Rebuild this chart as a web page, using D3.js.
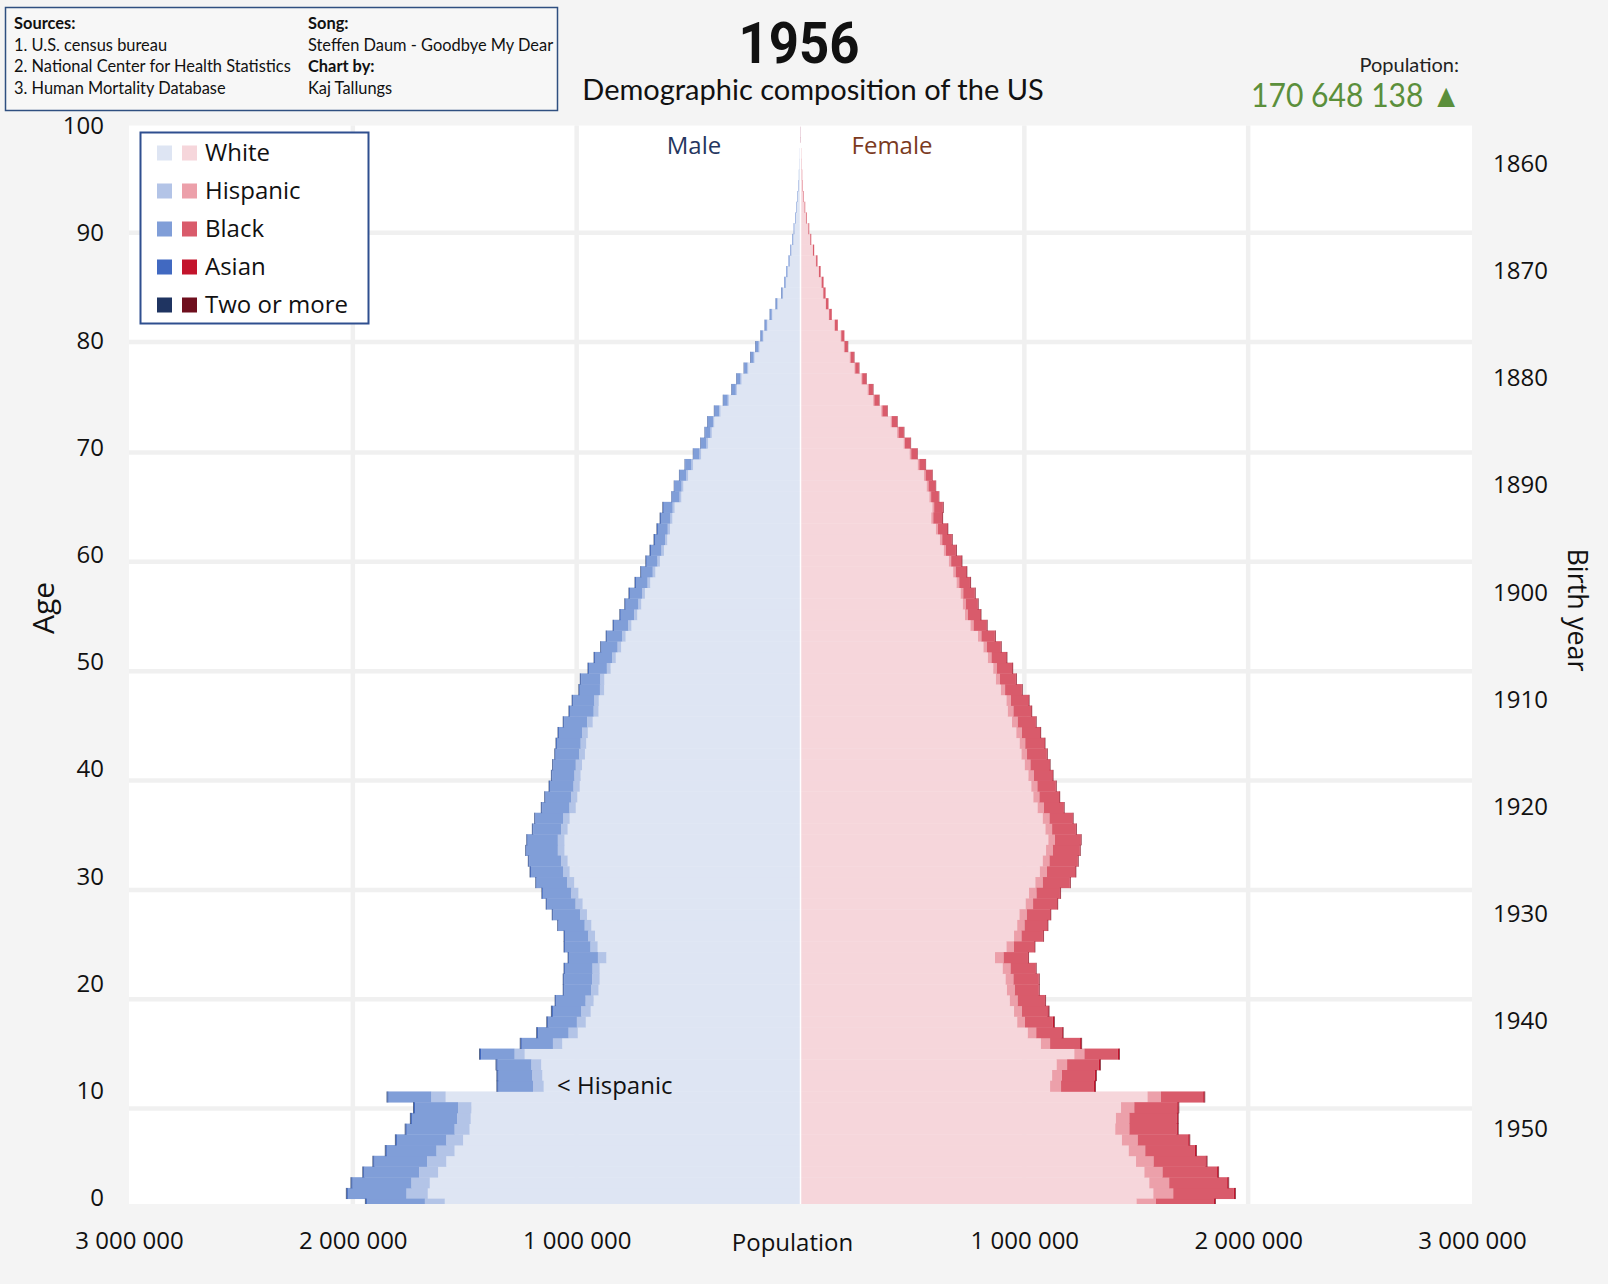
<!DOCTYPE html>
<html>
<head>
<meta charset="utf-8">
<script src="https://cdn.jsdelivr.net/npm/d3@7"></script>
<style>
  html, body { margin: 0; padding: 0; background: #f4f4f4; }
  svg { display: block; }
</style>
</head>
<body>
<div id="chart"></div>
<script>
// ---- data (population in thousands) ----
const ages = [0,1,2,3,4,5,6,7,8,9,10,11,12,13,14,15,16,17,18,19,20,21,22,23,24,25,26,27,28,29,
  30,31,32,33,34,35,36,37,38,39,40,41,42,43,44,45,46,47,48,49,50,51,52,53,54,55,56,57,58,59,
  60,61,62,63,64,65,66,67,68,69,70,71,72,73,74,75,76,77,78,79,80,81,82,83,84,85,86,87,88,89,
  90,91,92,93,94,95,96,97,98,99,100];

const maleWhite = [1589,1665,1656,1619,1582,1545,1507,1478,1473,1470,
  1585,1147,1153,1158,1232,1064,995,959,937,924,
  902,897,897,867,906,918,934,954,973,992,
  1011,1031,1040,1054,1054,1040,1031,1004,997,986,
  982,976,963,957,950,928,902,901,877,876,
  848,825,801,781,755,729,711,695,671,648,
  628,610,595,583,572,562,532,523,502,480,
  444,413,396,385,357,320,284,263,233,205,
  183,165.5,147.5,125.5,101.5,77.5,64.5,56.5,47,40,
  31.5,26.5,20.2,15.9,12.2,7.6,6,3.5,2.3,1.5,1.15];
const maleHispanic = [89,95,82,85,86,81,75,67,61,60,
  64,48,45,44,45,42,41,40,42,36,
  34,34,32,38,32,30,30,30,32,32,
  32,30,30,30,30,30,30,28,28,28,
  28,28,25,25,25,25,22,20,19,18,
  17,16,16,15,14,14,13,13,12,12,
  11,11,10,10,9,9,8,8,8,7,
  7,7,6,6,6,5,5,5,4,4,
  4,3,3,3,2,2,2,2,1.5,1.5,
  1,1,0.8,0.6,0.5,0.4,0.3,0.2,0.1,0.1,0.05];
const maleBlack = [259,262,263,244,235,222,221,214,202,192,
  191,154,151,151,150,139,135,127,127,132,
  120,125,123,129,114,104,117,121,127,127,
  136,143,142,140,135,124,123,122,114,105,
  99,100,106,106,104,103,106,95,90,86,
  80,77,72,68,64,60,57,54,52,50,
  48,47,45,44,42,40,34,32,30,28,
  27,25,24,23,21,19,17,16,14,13,
  12,10,9,8,7,6,6,5,5,4,
  4,3,2.5,2,1.8,1.5,1.2,0.8,0.6,0.4,0.3];
const maleAsian = [6,6,6,6,6,6,6,6,6,6,6,6,6,6,6,6,6,6,6,
  4,4,4,4,4,4,4,4,4,4,4,4,4,4,4,4,4,4,4,4,4,4,4,4,4,4,4,4,
  4,4,4,4,4,4,4,4,4,4,4,4,4,4,4,4,4,4,4,
  2,2,2,2,2,2,2,2,2,2,2,2,2,2,2,
  1,1,1,1,1,
  0.5,0.5,0.5,0.5,0.5,0.5,0.5,0.5,0.5,0.5,
  0,0,0,0,0];
const maleTwo = [3,3,3,3,3,3,3,3,3,3,3,3,3,3,3,3,3,3,3,
  2,2,2,2,2,2,2,2,2,2,2,2,2,2,2,2,2,2,2,2,2,2,2,2,2,2,2,2,
  2,2,2,2,2,2,2,2,2,2,2,2,2,2,2,2,2,2,2,
  1,1,1,1,1,1,1,1,1,1,1,1,1,1,1,
  0.5,0.5,0.5,0.5,0.5,
  0,0,0,0,0,0,0,0,0,0,
  0,0,0,0,0];

const femaleWhite = [1501,1576,1558,1536,1499,1466,1436,1406,1409,1432,
  1550,1115,1124,1144,1223,1074,1015,968,954,935,
  922,916,903,869,920,954,968,978,1006,1021,
  1049,1069,1082,1097,1107,1094,1082,1059,1040,1031,
  1018,1002,987,979,964,945,926,920,895,873,
  861,837,817,793,759,735,725,715,697,682,
  663,640,623,605,584,589,575.5,563.5,551.5,523.5,
  487.5,460.5,431.5,402.5,360.5,324.5,299.5,271.5,240.5,219.5,
  193.5,179,151,126,112,100,92.7,81.2,68.2,54.7,
  42.7,34.4,24.1,17.7,12.3,7.9,5.8,3.3,2,1.25,0.35];
const femaleHispanic = [87,89,89,81,78,74,70,63,60,59,
  60,49,44,47,45,41,38,35,35,35,
  35,35,35,38,33,33,33,33,33,33,
  33,32,30,30,30,30,30,28,27,27,
  25,25,25,25,25,25,25,20,19,18,
  16,16,15,15,14,13,13,12,12,11,
  10,10,10,9,9,8,8,8,7,7,
  7,6,6,6,5,5,5,4,4,4,
  3,3,3,2,2,2,2,1.5,1.5,1,
  1,0.8,0.6,0.5,0.4,0.3,0.2,0.1,0.1,0.05,0.05];
const femaleBlack = [259,271,259,244,232,222,226,211,211,192,
  189,147,147,142,150,134,113,124,114,122,
  107,113,112,109,91,96,101,104,107,105,
  121,126,126,120,114,106,103,88,88,82,
  82,85,88,85,81,80,79,78,74,71,
  68,66,62,60,58,55,53,51,48,47,
  45,44,42,41,39,38,34,32,30,28,
  27,25,24,23,22,21,19,18,16,15,
  14,13,12,11,10,9,8,7,6,5,
  4,3.5,3,2.5,2,1.5,1.2,0.8,0.6,0.4,0.3];
const femaleAsian = [6,6,6,6,6,6,6,6,6,6,6,6,6,6,6,6,6,6,6,
  3,3,3,3,3,3,3,3,3,3,3,3,3,3,3,3,3,3,3,3,3,3,3,3,3,3,3,3,
  3,3,3,3,3,3,3,3,3,3,3,3,3,3,3,3,3,3,3,
  1.5,1.5,1.5,1.5,1.5,1.5,1.5,1.5,1.5,1.5,1.5,1.5,1.5,1.5,1.5,
  1,1,1,1,1,
  0.3,0.3,0.3,0.3,0.3,0.3,0.3,0.3,0.3,0.3,
  0.3,0.3,0.3,0.3,0.3];
const femaleTwo = [3,3,3,3,3,3,3,3,3,3,3,3,3,3,3,3,3,3,3,
  2,2,2,2,2,2,2,2,2,2,2,2,2,2,2,2,2,2,2,2,2,2,2,2,2,2,2,2,
  2,2,2,2,2,2,2,2,2,2,2,2,2,2,2,2,2,2,2,
  1,1,1,1,1,1,1,1,1,1,1,1,1,1,1,
  0,0,0,0,0,
  0,0,0,0,0,0,0,0,0,0,
  0,0,0,0,0];

const groups = ["White", "Hispanic", "Black", "Asian", "Two or more"];
const ageTicks = [0,10,20,30,40,50,60,70,80,90,100];
const birthYears = [1860,1870,1880,1890,1900,1910,1920,1930,1940,1950];
const popTicks = [-3000,-2000,-1000,1000,2000,3000];
const gridAges = [8.9,19.1,29.3,39.5,49.7,59.9,70.1,80.4,90.6];
const gridPops = [-2000,-1000,1000,2000];
const year = "1956";
const totalPopulation = "170 648 138";

// colours for each group, male / female
const maleColors = ["#dee5f3", "#b3c4e7", "#809ed8", "#4169c1", "#1f3461"];
const femaleColors = ["#f6d6db", "#eca0aa", "#d95b6b", "#c3142c", "#6f0f1e"];

const W = 1608, H = 1284;
const svg = d3.select("#chart").append("svg")
    .attr("width", W)
    .attr("height", H);

svg.append("rect").attr("width", W).attr("height", H).attr("fill", "#f4f4f4");

// scales
const x = d3.scaleLinear().domain([-3000, 3000]).range([129, 1472]);
const y = d3.scaleLinear().domain([0, 100]).range([1204, 132]);
const band = y(0) - y(1);
const plotTop = y(100.6), plotBottom = y(0);
const birthY = d3.scaleLinear().domain([1956.5, 1856.5]).range([y(0), y(100)]);

const sans = "'Open Sans', sans-serif";
const calib = "Lato, 'Open Sans', sans-serif";

// plot area + gridlines
svg.append("rect")
    .attr("x", x(-3000)).attr("y", plotTop)
    .attr("width", x(3000) - x(-3000)).attr("height", plotBottom - plotTop)
    .attr("fill", "#ffffff");

svg.append("g").selectAll("line")
    .data(gridAges)
    .enter().append("line")
    .attr("x1", x(-3000)).attr("x2", x(3000))
    .attr("y1", d => y(d)).attr("y2", d => y(d))
    .attr("stroke", "#f0f0f0").attr("stroke-width", 4.5);

svg.append("g").selectAll("line")
    .data(gridPops)
    .enter().append("line")
    .attr("x1", d => x(d)).attr("x2", d => x(d))
    .attr("y1", plotTop).attr("y2", plotBottom)
    .attr("stroke", "#f0f0f0").attr("stroke-width", 4.5);

svg.append("clipPath").attr("id", "plotclip")
    .append("rect")
    .attr("x", x(-3000)).attr("y", plotTop)
    .attr("width", x(3000) - x(-3000)).attr("height", plotBottom - plotTop);

// stacked bars
const keys = ["white", "hispanic", "black", "asian", "two"];
const maleRows = ages.map((a, i) => ({age: a, white: maleWhite[i], hispanic: maleHispanic[i],
    black: maleBlack[i], asian: maleAsian[i], two: maleTwo[i]}));
const femaleRows = ages.map((a, i) => ({age: a, white: femaleWhite[i], hispanic: femaleHispanic[i],
    black: femaleBlack[i], asian: femaleAsian[i], two: femaleTwo[i]}));

const stack = d3.stack().keys(keys);
const maleSeries = stack(maleRows);
const femaleSeries = stack(femaleRows);

const bars = svg.append("g").attr("clip-path", "url(#plotclip)");

maleSeries.forEach(function(s, k) {
    bars.append("g").attr("fill", maleColors[k])
        .selectAll("rect")
        .data(s)
        .enter().append("rect")
        .attr("x", d => x(-d[1]))
        .attr("width", d => Math.max(0, x(-d[0]) - x(-d[1])))
        .attr("y", d => y(d.data.age) - band / 2)
        .attr("height", band + 0.4);
});

femaleSeries.forEach(function(s, k) {
    bars.append("g").attr("fill", femaleColors[k])
        .selectAll("rect")
        .data(s)
        .enter().append("rect")
        .attr("x", d => x(d[0]))
        .attr("width", d => Math.max(0, x(d[1]) - x(d[0])))
        .attr("y", d => y(d.data.age) - band / 2)
        .attr("height", band + 0.4);
});

// thin white divider between male and female
bars.append("line")
    .attr("x1", x(0)).attr("x2", x(0))
    .attr("y1", y(99)).attr("y2", plotBottom)
    .attr("stroke", "#ffffff").attr("stroke-width", 1.5);

// age axis (left)
const ageAxis = svg.append("g")
    .attr("transform", "translate(104,-6)")
    .call(d3.axisLeft(y).tickValues(ageTicks).tickSize(0).tickPadding(0));
ageAxis.select(".domain").remove();
ageAxis.selectAll("text")
    .attr("font-family", sans).attr("font-size", 24).attr("fill", "#111");

// birth year axis (right)
const yearAxis = svg.append("g")
    .attr("transform", "translate(1493,-6)")
    .call(d3.axisRight(birthY).tickValues(birthYears).tickSize(0).tickPadding(0).tickFormat(d3.format("d")));
yearAxis.select(".domain").remove();
yearAxis.selectAll("text")
    .attr("font-family", sans).attr("font-size", 24).attr("fill", "#111");

// population axis (bottom)
const fmt = d => d3.format(",")(Math.abs(d) * 1000).replace(/,/g, " ");
const popAxis = svg.append("g")
    .attr("transform", "translate(0,1241)")
    .call(d3.axisBottom(x).tickValues(popTicks).tickSize(0).tickFormat(fmt));
popAxis.select(".domain").remove();
popAxis.selectAll("text")
    .attr("y", 0).attr("dy", "0.35em")
    .attr("font-family", sans).attr("font-size", 24).attr("fill", "#111");

// axis titles
svg.append("text")
    .attr("x", x(0) - 8).attr("y", 1243).attr("dy", "0.35em")
    .attr("text-anchor", "middle")
    .attr("font-family", sans).attr("font-size", 24).attr("fill", "#111")
    .text("Population");

svg.append("text")
    .attr("transform", "translate(43,608) rotate(-90)")
    .attr("dy", "0.35em")
    .attr("text-anchor", "middle")
    .attr("font-family", sans).attr("font-size", 30).attr("fill", "#111")
    .text("Age");

svg.append("text")
    .attr("transform", "translate(1577,610) rotate(90)")
    .attr("dy", "0.35em")
    .attr("text-anchor", "middle")
    .attr("font-family", sans).attr("font-size", 27).attr("fill", "#111")
    .text("Birth year");

// Male / Female labels
svg.append("text")
    .attr("x", 694).attr("y", 154)
    .attr("text-anchor", "middle")
    .attr("font-family", sans).attr("font-size", 24).attr("fill", "#25365f")
    .text("Male");
svg.append("text")
    .attr("x", 892).attr("y", 154)
    .attr("text-anchor", "middle")
    .attr("font-family", sans).attr("font-size", 24).attr("fill", "#7b3a1e")
    .text("Female");

// annotation
svg.append("text")
    .attr("x", 557).attr("y", y(11)).attr("dy", "0.35em")
    .attr("font-family", sans).attr("font-size", 24).attr("fill", "#111")
    .text("< Hispanic");

// legend
const legend = svg.append("g");
legend.append("rect")
    .attr("x", 140.5).attr("y", 132.5)
    .attr("width", 228).attr("height", 191)
    .attr("fill", "#ffffff")
    .attr("stroke", "#2f4f8f").attr("stroke-width", 2);

const legendItem = legend.selectAll("g.item")
    .data(groups)
    .enter().append("g")
    .attr("class", "item")
    .attr("transform", (d, i) => `translate(0,${153 + i * 38})`);

legendItem.append("rect")
    .attr("x", 157).attr("y", -7.5).attr("width", 15).attr("height", 15)
    .attr("fill", (d, i) => maleColors[i]);
legendItem.append("rect")
    .attr("x", 182).attr("y", -7.5).attr("width", 15).attr("height", 15)
    .attr("fill", (d, i) => femaleColors[i]);
legendItem.append("text")
    .attr("x", 205).attr("dy", "0.35em")
    .attr("font-family", sans).attr("font-size", 24).attr("fill", "#111")
    .text(d => d);

// sources box
const src = svg.append("g");
src.append("rect")
    .attr("x", 5.5).attr("y", 7.5)
    .attr("width", 552).attr("height", 103)
    .attr("fill", "#f7f7f7")
    .attr("stroke", "#2f4f80").attr("stroke-width", 1.5);

const leftLines = [["Sources:", true], ["1. U.S. census bureau", false],
    ["2. National Center for Health Statistics", false], ["3. Human Mortality Database", false]];
const rightLines = [["Song:", true], ["Steffen Daum - Goodbye My Dear", false],
    ["Chart by:", true], ["Kaj Tallungs", false]];

src.selectAll("text.l")
    .data(leftLines)
    .enter().append("text")
    .attr("class", "l")
    .attr("x", 14).attr("y", (d, i) => 29 + i * 21.5)
    .attr("font-family", calib).attr("font-size", 16.4)
    .attr("font-weight", d => d[1] ? "bold" : "normal")
    .attr("fill", "#111")
    .text(d => d[0]);

src.selectAll("text.r")
    .data(rightLines)
    .enter().append("text")
    .attr("class", "r")
    .attr("x", 308).attr("y", (d, i) => 29 + i * 21.5)
    .attr("font-family", calib).attr("font-size", 16.4)
    .attr("font-weight", d => d[1] ? "bold" : "normal")
    .attr("fill", "#111")
    .text(d => d[0]);

// title
svg.append("text")
    .attr("x", 799).attr("y", 63)
    .attr("text-anchor", "middle")
    .attr("font-family", "Roboto, sans-serif").attr("font-weight", "bold")
    .attr("font-size", 57).attr("fill", "#111")
    .attr("textLength", 121).attr("lengthAdjust", "spacingAndGlyphs")
    .text(year);

svg.append("text")
    .attr("x", 813).attr("y", 100)
    .attr("text-anchor", "middle")
    .attr("font-family", calib).attr("font-size", 29).attr("fill", "#111")
    .text("Demographic composition of the US");

// total population
svg.append("text")
    .attr("x", 1459).attr("y", 72)
    .attr("text-anchor", "end")
    .attr("font-family", calib).attr("font-size", 20).attr("fill", "#222")
    .text("Population:");

svg.append("text")
    .attr("x", 1461).attr("y", 107)
    .attr("text-anchor", "end")
    .attr("font-family", calib).attr("font-size", 33).attr("fill", "#5b8f3b")
    .attr("textLength", 210).attr("lengthAdjust", "spacingAndGlyphs")
    .text(totalPopulation + " \u25B2");
</script>
</body>
</html>
